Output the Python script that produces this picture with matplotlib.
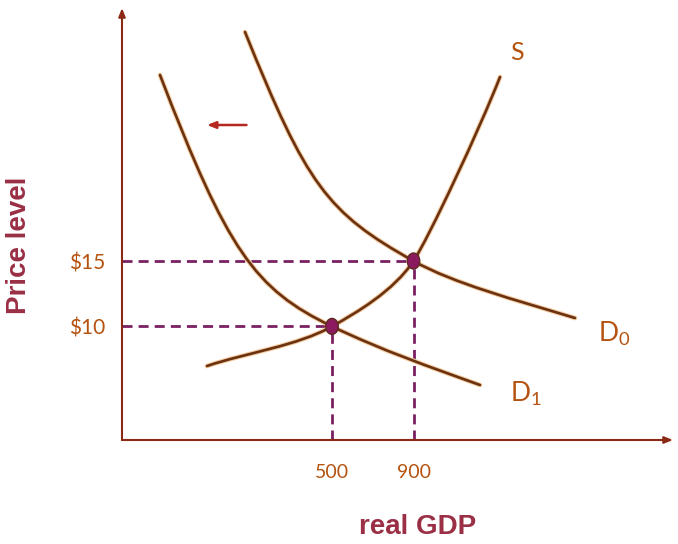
import matplotlib
matplotlib.use("Agg")
import matplotlib.pyplot as plt
from matplotlib.patches import Ellipse, PathPatch
from matplotlib.path import Path

plt.rcParams["mathtext.fontset"] = "custom"
plt.rcParams["mathtext.rm"] = "Lato"

# curve shapes (chart units), as cubic bezier
# control points: start, then 3 points per segment
d1_pts = [(7.6, 91.25),
          (21.1, 47.35), (26.45, 37.75), (42.0, 28.4),
          (52.0, 22.4), (61.6, 18.25), (71.6, 13.75)]
d0_pts = [(24.6, 102.0),
          (36.95, 63.72), (40.99, 56.85), (58.3, 44.75),
          (66.3, 39.15), (78.6, 35.06), (90.6, 30.5)]
s_pts = [(17.0, 18.5),
         (25.0, 21.86), (35.0, 23.5), (42.0, 28.4),
         (47.0, 31.9), (54.3, 37.25), (58.3, 44.75),
         (61.3, 50.38), (71.6, 77.95), (75.6, 90.75)]

# equilibria
eq_x = [42.0, 58.3]
eq_y = [28.4, 44.75]
gdp_labels = ["500", "900"]
price_labels = ["\\$10", "\\$15"]

curve_c = "#6b3212"
halo_c = "#f3cca0"
dash_c = "#7a2062"
tick_c = "#b5520f"
title_c = "#9a2f45"
axis_c = "#8a2a16"

fig = plt.figure(figsize=(6.78, 5.44), dpi=100)
ax = fig.add_axes([122 / 678, 104 / 544, 551 / 678, 432 / 544])
ax.set_xlim(0, 110.2)
ax.set_ylim(0, 108)
for sp in ax.spines.values():
    sp.set_visible(False)

# axes with arrows
for end in [(0, 108), (110.2, 0)]:
    ax.annotate("", xy=end, xytext=(0, 0),
                arrowprops=dict(arrowstyle="-|>,head_length=0.5,head_width=0.2",
                                color=axis_c, lw=1.5, shrinkA=0, shrinkB=0),
                annotation_clip=False)


def bezier(pts):
    codes = [Path.MOVETO] + [Path.CURVE4] * (len(pts) - 1)
    return Path(pts, codes)


# curves
for pts in [d1_pts, d0_pts, s_pts]:
    ax.add_patch(PathPatch(bezier(pts), fill=False, edgecolor=halo_c,
                           lw=3.4, capstyle="round", zorder=2))
    ax.add_patch(PathPatch(bezier(pts), fill=False, edgecolor=curve_c,
                           lw=1.9, capstyle="round", zorder=3))

# dashed guides and points
for x, y in zip(eq_x, eq_y):
    ax.plot([0, x], [y, y], color=dash_c, lw=2, dashes=(3.6, 2.2), zorder=1)
    ax.plot([x, x], [0, y], color=dash_c, lw=2, dashes=(3.6, 2.2), zorder=1)
    ax.add_patch(Ellipse((x, y), 2.5, 4.0, facecolor="#8c1a5e",
                         edgecolor="#5e2a22", lw=1, zorder=5))

# shift arrow
ax.annotate("", xy=(17.0, 78.75), xytext=(24.9, 78.75),
            arrowprops=dict(arrowstyle="-|>,head_length=0.5,head_width=0.2",
                            color="#b5281f", lw=1.8, shrinkA=0, shrinkB=0))

ax.set_xticks(eq_x)
ax.set_xticklabels(gdp_labels, fontfamily="Lato", fontsize=14, color=tick_c)
ax.set_yticks(eq_y)
ax.set_yticklabels(price_labels, fontfamily="Lato", fontsize=15, color=tick_c)
ax.tick_params(axis="x", length=0, pad=17)
ax.tick_params(axis="y", length=0, pad=12)

# curve labels
ax.text(79, 97, "S", fontfamily="Lato", fontsize=18, color=tick_c,
        ha="center", va="center")
ax.text(98.5, 26.5, "D$_\\mathrm{0}$", fontfamily="Lato", fontsize=19,
        color=tick_c, ha="center", va="center")
ax.text(80.8, 11.5, "D$_\\mathrm{1}$", fontfamily="Lato", fontsize=19,
        color=tick_c, ha="center", va="center")

fig.text(19 / 678, 1 - 245 / 544, "Price level", rotation=90, ha="center",
         va="center", fontfamily="Liberation Sans", fontweight="bold",
         fontsize=20, color=title_c)
fig.text(418 / 678, 1 - 527 / 544, "real GDP", ha="center", va="center",
         fontfamily="Liberation Sans", fontweight="bold", fontsize=20,
         color=title_c)

fig.savefig("out.png", dpi=100)
